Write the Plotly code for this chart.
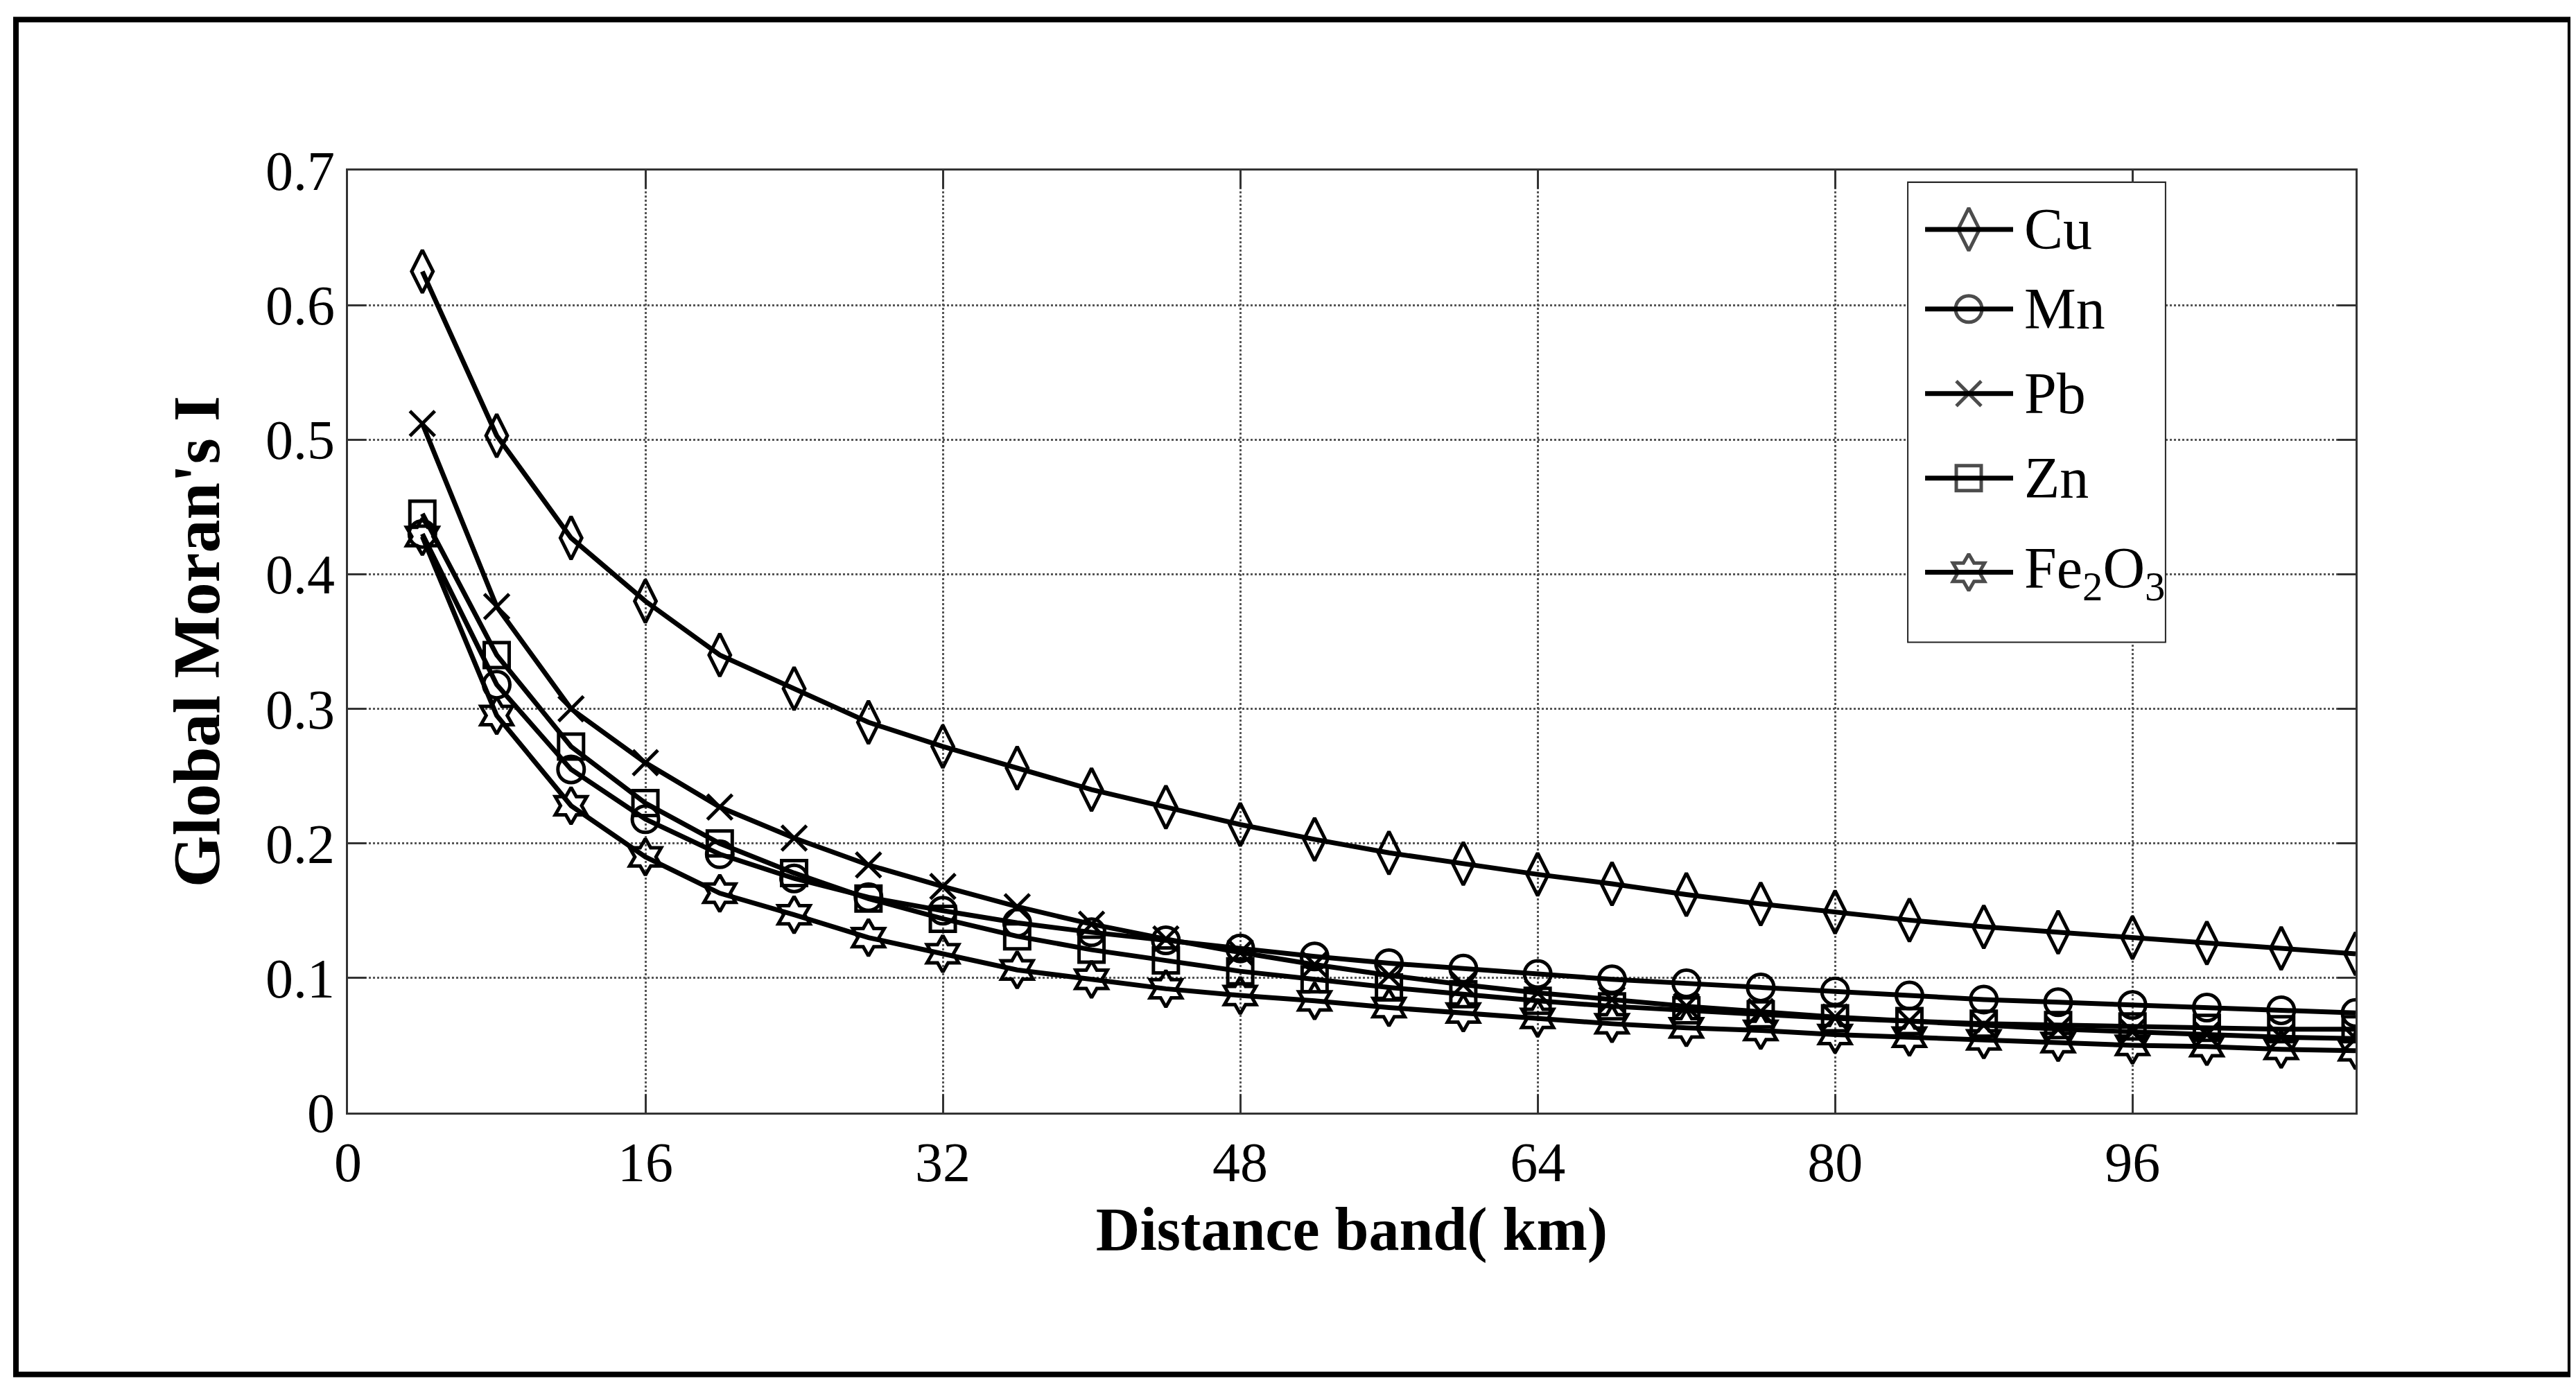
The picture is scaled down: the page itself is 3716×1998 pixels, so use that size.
import plotly.graph_objects as go

# distance bands (km)
distance = [4, 8, 12, 16, 20, 24, 28, 32, 36, 40, 44, 48, 52, 56,
            60, 64, 68, 72, 76, 80, 84, 88, 92, 96, 100, 104, 108]

# Global Moran's I per element
cu = [0.625, 0.503, 0.427, 0.380, 0.340, 0.315, 0.290, 0.272, 0.256, 0.240,
      0.227, 0.214, 0.203, 0.193, 0.185, 0.177, 0.170, 0.162, 0.155, 0.149,
      0.143, 0.138, 0.134, 0.130, 0.126, 0.122, 0.118]
mn = [0.430, 0.318, 0.255, 0.218, 0.192, 0.174, 0.160, 0.150, 0.141, 0.134,
      0.128, 0.122, 0.116, 0.111, 0.107, 0.103, 0.099, 0.096, 0.093, 0.090,
      0.087, 0.084, 0.082, 0.080, 0.078, 0.076, 0.074]
pb = [0.512, 0.376, 0.300, 0.260, 0.227, 0.204, 0.184, 0.168, 0.153, 0.140,
      0.129, 0.119, 0.110, 0.102, 0.095, 0.089, 0.084, 0.079, 0.075, 0.071,
      0.068, 0.065, 0.062, 0.060, 0.058, 0.056, 0.055]
zn = [0.445, 0.340, 0.272, 0.230, 0.200, 0.178, 0.159, 0.144, 0.131, 0.121,
      0.113, 0.105, 0.099, 0.093, 0.088, 0.083, 0.079, 0.076, 0.073, 0.070,
      0.068, 0.066, 0.065, 0.064, 0.063, 0.062, 0.062]
fe2o3 = [0.428, 0.295, 0.228, 0.190, 0.163, 0.147, 0.130, 0.118, 0.106, 0.099,
         0.092, 0.087, 0.083, 0.078, 0.074, 0.070, 0.066, 0.063, 0.061, 0.058,
         0.056, 0.054, 0.052, 0.050, 0.049, 0.047, 0.046]

names = ["Cu", "Mn", "Pb", "Zn", "Fe<sub>2</sub>O<sub>3</sub>"]
values = [cu, mn, pb, zn, fe2o3]
symbols = ["diamond-tall-open", "circle-open", "x-thin-open",
           "square-open", "hexagram-open"]
msizes = [44, 38, 36, 36, 40]

x_ticks = [0, 16, 32, 48, 64, 80, 96]
y_ticks = [0, 0.1, 0.2, 0.3, 0.4, 0.5, 0.6, 0.7]

FONT = "Liberation Serif"

fig = go.Figure()
for name, vals, sym, ms in zip(names, values, symbols, msizes):
    fig.add_trace(go.Scatter(
        x=distance, y=vals, name=name, mode='lines+markers',
        line=dict(color='black', width=7),
        marker=dict(symbol=sym, size=ms, color='black',
                    line=dict(color='black', width=5)),
        showlegend=False))

# hand made legend (plotly's own legend keeps the symbols tiny)
# it lives on its own little axes pair, in pixels from the box's top-left
leg_rows = [67, 182, 304, 426, 562]
for name, sym, ms, row in zip(names, symbols, msizes, leg_rows):
    fig.add_trace(go.Scatter(
        x=[24, 87, 151], y=[row, row, row], mode='lines+markers',
        line=dict(color='black', width=7),
        marker=dict(symbol=sym, size=[0, ms, 0], color='black',
                    line=dict(color='black', width=5)),
        xaxis='x2', yaxis='y2', showlegend=False, hoverinfo='skip'))
    fig.add_annotation(x=165, y=row, xref='x2', yref='y2', text=name,
                       showarrow=False, xanchor='left', yanchor='middle',
                       font=dict(family=FONT, size=84, color='black'))

axis_common = dict(
    showline=True, linecolor='#333333', linewidth=3, mirror='ticks',
    ticks='inside', ticklen=26, tickwidth=3, tickcolor='#333333',
    showgrid=True, gridcolor='#555555', gridwidth=3, griddash='dot',
    zeroline=False,
    tickfont=dict(family=FONT, size=80, color='black'),
)

fig.update_xaxes(range=[0, 108], tickvals=x_ticks,
                 title=dict(text="<b>Distance band( km)</b>", standoff=22,
                            font=dict(family=FONT, size=88, color='black')),
                 **axis_common)
fig.update_yaxes(range=[0, 0.7], tickvals=y_ticks,
                 ticktext=[str(v) for v in y_ticks],
                 title=dict(text="<b>Global Moran's I</b>", standoff=35,
                            font=dict(family=FONT, size=96, color='black')),
                 **axis_common)

# legend box: white, over the grid but under the lines
fig.add_shape(type='rect', xref='x', yref='y', layer='between',
              x0=83.95, x1=97.74, y0=0.35, y1=0.6908,
              fillcolor='white', line=dict(color='#222222', width=4))

# outer frame round the whole picture
fig.add_shape(type='rect', xref='paper', yref='paper',
              x0=-0.1654, x1=1.1070, y0=-0.2779, y1=1.1603,
              line=dict(color='black', width=8))

fig.update_layout(
    width=3716, height=1998,
    margin=dict(l=494, r=326, t=238, b=401),
    paper_bgcolor='white', plot_bgcolor='white',
    font=dict(family=FONT, color='black'),
    xaxis2=dict(domain=[0.7773, 0.9050], anchor='y2', range=[0, 370],
                visible=False, fixedrange=True),
    yaxis2=dict(domain=[0.5, 0.9868], anchor='x2', range=[662, 0],
                visible=False, fixedrange=True),
    showlegend=False,
)

fig.write_html("out.html")
